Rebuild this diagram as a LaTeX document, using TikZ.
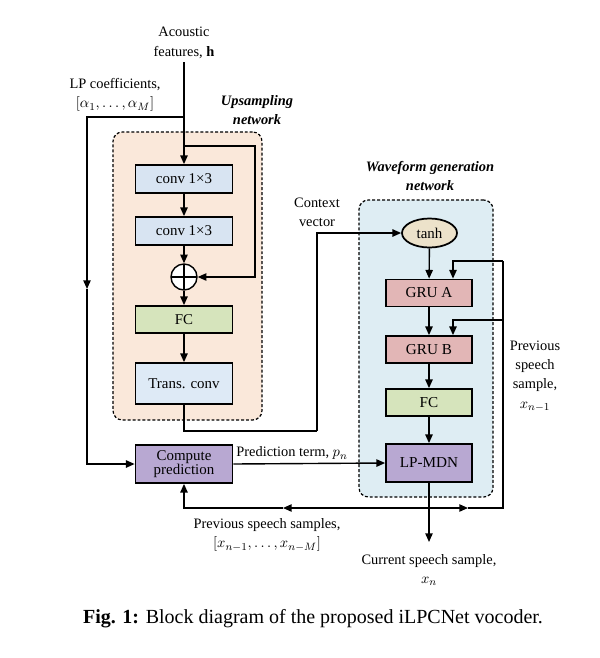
\documentclass[tikz,border=0pt]{standalone}
\usepackage{fontspec}
\setmainfont{Liberation Serif}
\usetikzlibrary{arrows.meta,shapes.geometric,calc}
\definecolor{peach}{RGB}{250,232,218}
\definecolor{convblue}{RGB}{216,228,242}
\definecolor{tblue}{RGB}{222,234,246}
\definecolor{wgblue}{RGB}{222,237,243}
\definecolor{fcgreen}{RGB}{214,228,188}
\definecolor{grupink}{RGB}{226,182,182}
\definecolor{mdnpurple}{RGB}{184,168,210}
\definecolor{tanhbeige}{RGB}{236,226,202}
\begin{document}
\begin{tikzpicture}[x=0.75pt,y=-0.75pt,
  font=\fontsize{10.8}{14.5}\selectfont,
  arr/.style={line width=1.05pt,-{Triangle[length=6.5pt,width=5.5pt]}},
  ln/.style={line width=1.05pt},
  blk/.style={draw,line width=1.3pt,inner sep=0pt,minimum width=72.75pt,font=\fontsize{11.2}{13}\selectfont},
  gblk/.style={draw,line width=1.3pt,inner sep=0pt,minimum width=64.5pt,font=\fontsize{11.4}{13}\selectfont},
  grp/.style={draw,line width=0.9pt,dash pattern=on 2.2pt off 1.5pt,rounded corners=7pt},
  lbl/.style={align=center,inner sep=0pt}]
\useasboundingbox (0,0) rectangle (600,658);

% group boxes
\node[grp,fill=peach,minimum width=111.75pt,minimum height=216pt] (up) at (187.5,276) {};
\node[grp,fill=wgblue,minimum width=100.5pt,minimum height=222.75pt] (wg) at (426,348.5) {};

% upsampling blocks
\node[blk,fill=convblue,minimum height=21pt] (conv1) at (184,179) {conv 1×3};
\node[blk,fill=convblue,minimum height=21pt] (conv2) at (184,231) {conv 1×3};
\node[circle,draw,line width=1.05pt,fill=white,minimum size=19.5pt,inner sep=0pt,
  path picture={\draw[line width=1.05pt] (path picture bounding box.north) -- (path picture bounding box.south)
  (path picture bounding box.west) -- (path picture bounding box.east);}] (plus) at (184,277) {};
\node[blk,fill=fcgreen,minimum height=20.25pt] (fc1) at (184,319.5) {FC};
\node[blk,fill=tblue,minimum height=30.75pt] (tconv) at (184,383.5) {Trans. conv};
\node[blk,fill=mdnpurple,minimum height=28.5pt,align=center] (comp) at (184,464) {Compute\\[-3pt]prediction};

% waveform generation blocks
\node[ellipse,draw,line width=1.3pt,fill=tanhbeige,minimum width=41.25pt,minimum height=21.75pt,inner sep=0pt,font=\fontsize{11.2}{13}\selectfont] (tanh) at (429.5,233) {tanh};
\node[gblk,fill=grupink,minimum height=20.25pt] (gruA) at (429,293) {GRU A};
\node[gblk,fill=grupink,minimum height=20.25pt] (gruB) at (429,349.5) {GRU B};
\node[gblk,fill=fcgreen,minimum height=20.25pt] (fc2) at (429,402.5) {FC};
\node[gblk,fill=mdnpurple,minimum height=28.5pt] (lpmdn) at (429,463) {LP-MDN};

% labels
\node[lbl] (acl) at (184,43) {Acoustic\\features, \textbf{h}};
\node[lbl] (lpl) at (115,95) {LP coefficients,\\$[\alpha_1,\dots,\alpha_M]$};
\node[lbl,font=\fontsize{10.8}{14.5}\selectfont\bfseries\itshape] (upl) at (257,110) {Upsampling\\network};
\node[lbl,font=\fontsize{10.8}{14.5}\selectfont\bfseries\itshape] (wgl) at (430,176) {Waveform generation\\network};
\node[lbl] (ctx) at (317,212) {Context\\vector};
\node[lbl,anchor=south] (prl) at (292,460) {Prediction term, $p_n$};
\node[lbl] (psl) at (535,376) {Previous\\speech\\sample,\\$x_{n-1}$};
\node[lbl] (pssl) at (267,535) {Previous speech samples,\\$[x_{n-1},\dots,x_{n-M}]$};
\node[lbl] (cur) at (429,570) {Current speech sample,\\$x_n$};
\node[lbl,font=\fontsize{15}{17}\selectfont] (cap) at (313,619) {\textbf{Fig. 1:} Block diagram of the proposed iLPCNet vocoder.};

% coordinates
\coordinate (hin) at (184,62);
\coordinate (lpj) at (184,117);
\coordinate (lpm) at (87,289);
\coordinate (sk) at (184,146);
\coordinate (sk2) at (255,146);
\coordinate (cvc) at (317,431);
\coordinate (out) at (429,542);
\coordinate (j) at (429,508);
\coordinate (bl) at (283,508);
\coordinate (br) at (468,508);
\coordinate (rA) at (503,261);
\coordinate (rB) at (503,320);
\coordinate (gA) at (453,261);
\coordinate (gB) at (453,320);

% upsampling connectors
\draw[arr] (hin) -- (conv1);
\draw[arr] (lpj) -| (lpm);
\draw[arr] (lpm) |- (comp.west);
\draw[arr] (sk) -- (sk2) |- (plus.east);
\draw[arr] (conv1) -- (conv2);
\draw[arr] (conv2) -- (plus);
\draw[arr] (plus) -- (fc1);
\draw[arr] (fc1) -- (tconv);
\draw[ln] (tconv.south) |- (cvc);
\draw[arr] (cvc) |- (tanh.west);

% waveform connectors
\draw[arr] (tanh) -- (gruA);
\draw[arr] (gruA) -- (gruB);
\draw[arr] (gruB) -- (fc2);
\draw[arr] (fc2) -- (lpmdn);
\draw[arr] (comp.east) -- (lpmdn.west);
\draw[arr] (lpmdn) -- (out);

% feedback
\draw[arr] (j) -- (bl);
\draw[arr] (bl) -| (comp.south);
\draw[arr] (j) -- (br);
\draw[ln] (br) -| (rA);
\draw[arr] (rA) -- (gA) -- (gA |- gruA.north);
\draw[arr] (rB) -- (gB) -- (gB |- gruB.north);
\end{tikzpicture}
\end{document}
